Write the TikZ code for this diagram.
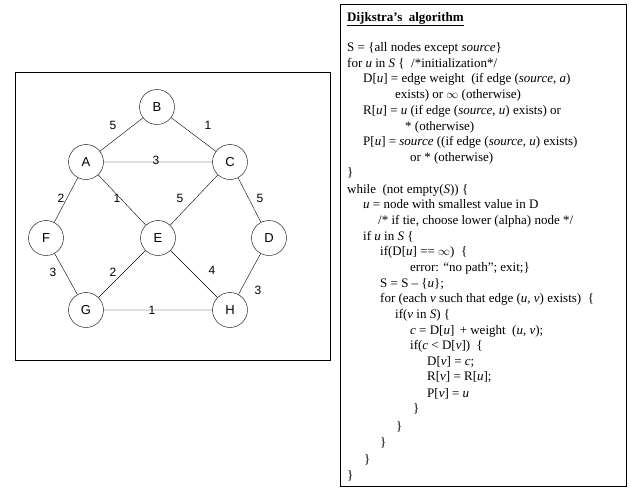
\documentclass[tikz,border=0pt]{standalone}
\usepackage{fontspec}
\setmainfont{Liberation Serif}
\newfontfamily\sansf{Liberation Sans}
\begin{document}
\begin{tikzpicture}[x=1pt,y=-1pt,
  vert/.style={circle,draw,fill=white,minimum size=35pt,inner sep=0pt,font=\sansf\fontsize{13}{15}\selectfont},
  wt/.style={font=\sansf\fontsize{12}{14}\selectfont},
  ln/.style={anchor=base west,inner sep=0pt,font=\fontsize{13}{15}\selectfont}]
\useasboundingbox (0,0) rectangle (631,493);
\draw (15,72) rectangle (330,360);
\draw (340,4) rectangle (626,486);
\node[vert] (B) at (157,107) {B};
\node[vert] (A) at (86,162) {A};
\node[vert] (C) at (230,162) {C};
\node[vert] (F) at (46,238) {F};
\node[vert] (E) at (158,238) {E};
\node[vert] (D) at (269,238) {D};
\node[vert] (G) at (86,310) {G};
\node[vert] (H) at (230,310) {H};
\draw (A)--(B) (B)--(C) (A)--(C) (A)--(F) (A)--(E) (C)--(E) (C)--(D) (F)--(G) (E)--(G) (E)--(H) (D)--(H) (G)--(H);
\node[wt] (w1) at (113,125) {5};
\node[wt] (w2) at (208,125) {1};
\node[wt] (w3) at (156,160) {3};
\node[wt] (w4) at (61,198) {2};
\node[wt] (w5) at (117,198) {1};
\node[wt] (w6) at (180,198) {5};
\node[wt] (w7) at (260,198) {5};
\node[wt] (w8) at (53,272) {3};
\node[wt] (w9) at (113,272) {2};
\node[wt] (w10) at (212,270) {4};
\node[wt] (w11) at (258,290) {3};
\node[wt] (w12) at (152,310) {1};
\node[ln] (t0) at (347,21) {\textbf{\underline{Dijkstra's\ \ algorithm}}};
\node[ln] (t1) at (347,51) {S = \{all nodes except \textit{source}\}};
\node[ln] (t2) at (347,67) {for \textit{u} in \textit{S} \{ \ /*initialization*/};
\node[ln] (t3) at (363,82) {D[\textit{u}] = edge weight \ (if edge (\textit{source}, \textit{a})};
\node[ln] (t4) at (395,98) {exists) or $\infty$ (otherwise)};
\node[ln] (t5) at (363,114) {R[\textit{u}] = \textit{u} (if edge (\textit{source}, \textit{u}) exists) or};
\node[ln] (t6) at (405,130) {* (otherwise)};
\node[ln] (t7) at (363,145) {P[\textit{u}] = \textit{source} ((if edge (\textit{source}, \textit{u}) exists)};
\node[ln] (t8) at (410,161) {or * (otherwise)};
\node[ln] (t9) at (347,176) {\}};
\node[ln] (t10) at (347,193) {while \ (not empty(\textit{S})) \{};
\node[ln] (t11) at (363,208) {\textit{u} = node with smallest value in D};
\node[ln] (t12) at (378,224) {/* if tie, choose lower (alpha) node */};
\node[ln] (t13) at (363,240) {if \textit{u} in \textit{S} \{};
\node[ln] (t14) at (380,255) {if(D[\textit{u}] == $\infty$) \ \{};
\node[ln] (t15) at (410,271) {error: ``no path''; exit;\}};
\node[ln] (t16) at (380,287) {S = S -- \{\textit{u}\};};
\node[ln] (t17) at (380,302) {for (each \textit{v} such that edge (\textit{u}, \textit{v}) exists) \ \{};
\node[ln] (t18) at (395,318) {if(\textit{v} in \textit{S}) \{};
\node[ln] (t19) at (410,334) {\textit{c} = D[\textit{u}] \,+ weight \ (\textit{u}, \textit{v});};
\node[ln] (t20) at (410,349) {if(\textit{c} {<} D[\textit{v}]) \ \{};
\node[ln] (t21) at (427,365) {D[\textit{v}] = \textit{c};};
\node[ln] (t22) at (427,380) {R[\textit{v}] = R[\textit{u}];};
\node[ln] (t23) at (427,397) {P[\textit{v}] = \textit{u}};
\node[ln] (t24) at (413,412) {\}};
\node[ln] (t25) at (396,430) {\}};
\node[ln] (t26) at (380,446) {\}};
\node[ln] (t27) at (364,463) {\}};
\node[ln] (t28) at (347,479) {\}};
\end{tikzpicture}
\end{document}
